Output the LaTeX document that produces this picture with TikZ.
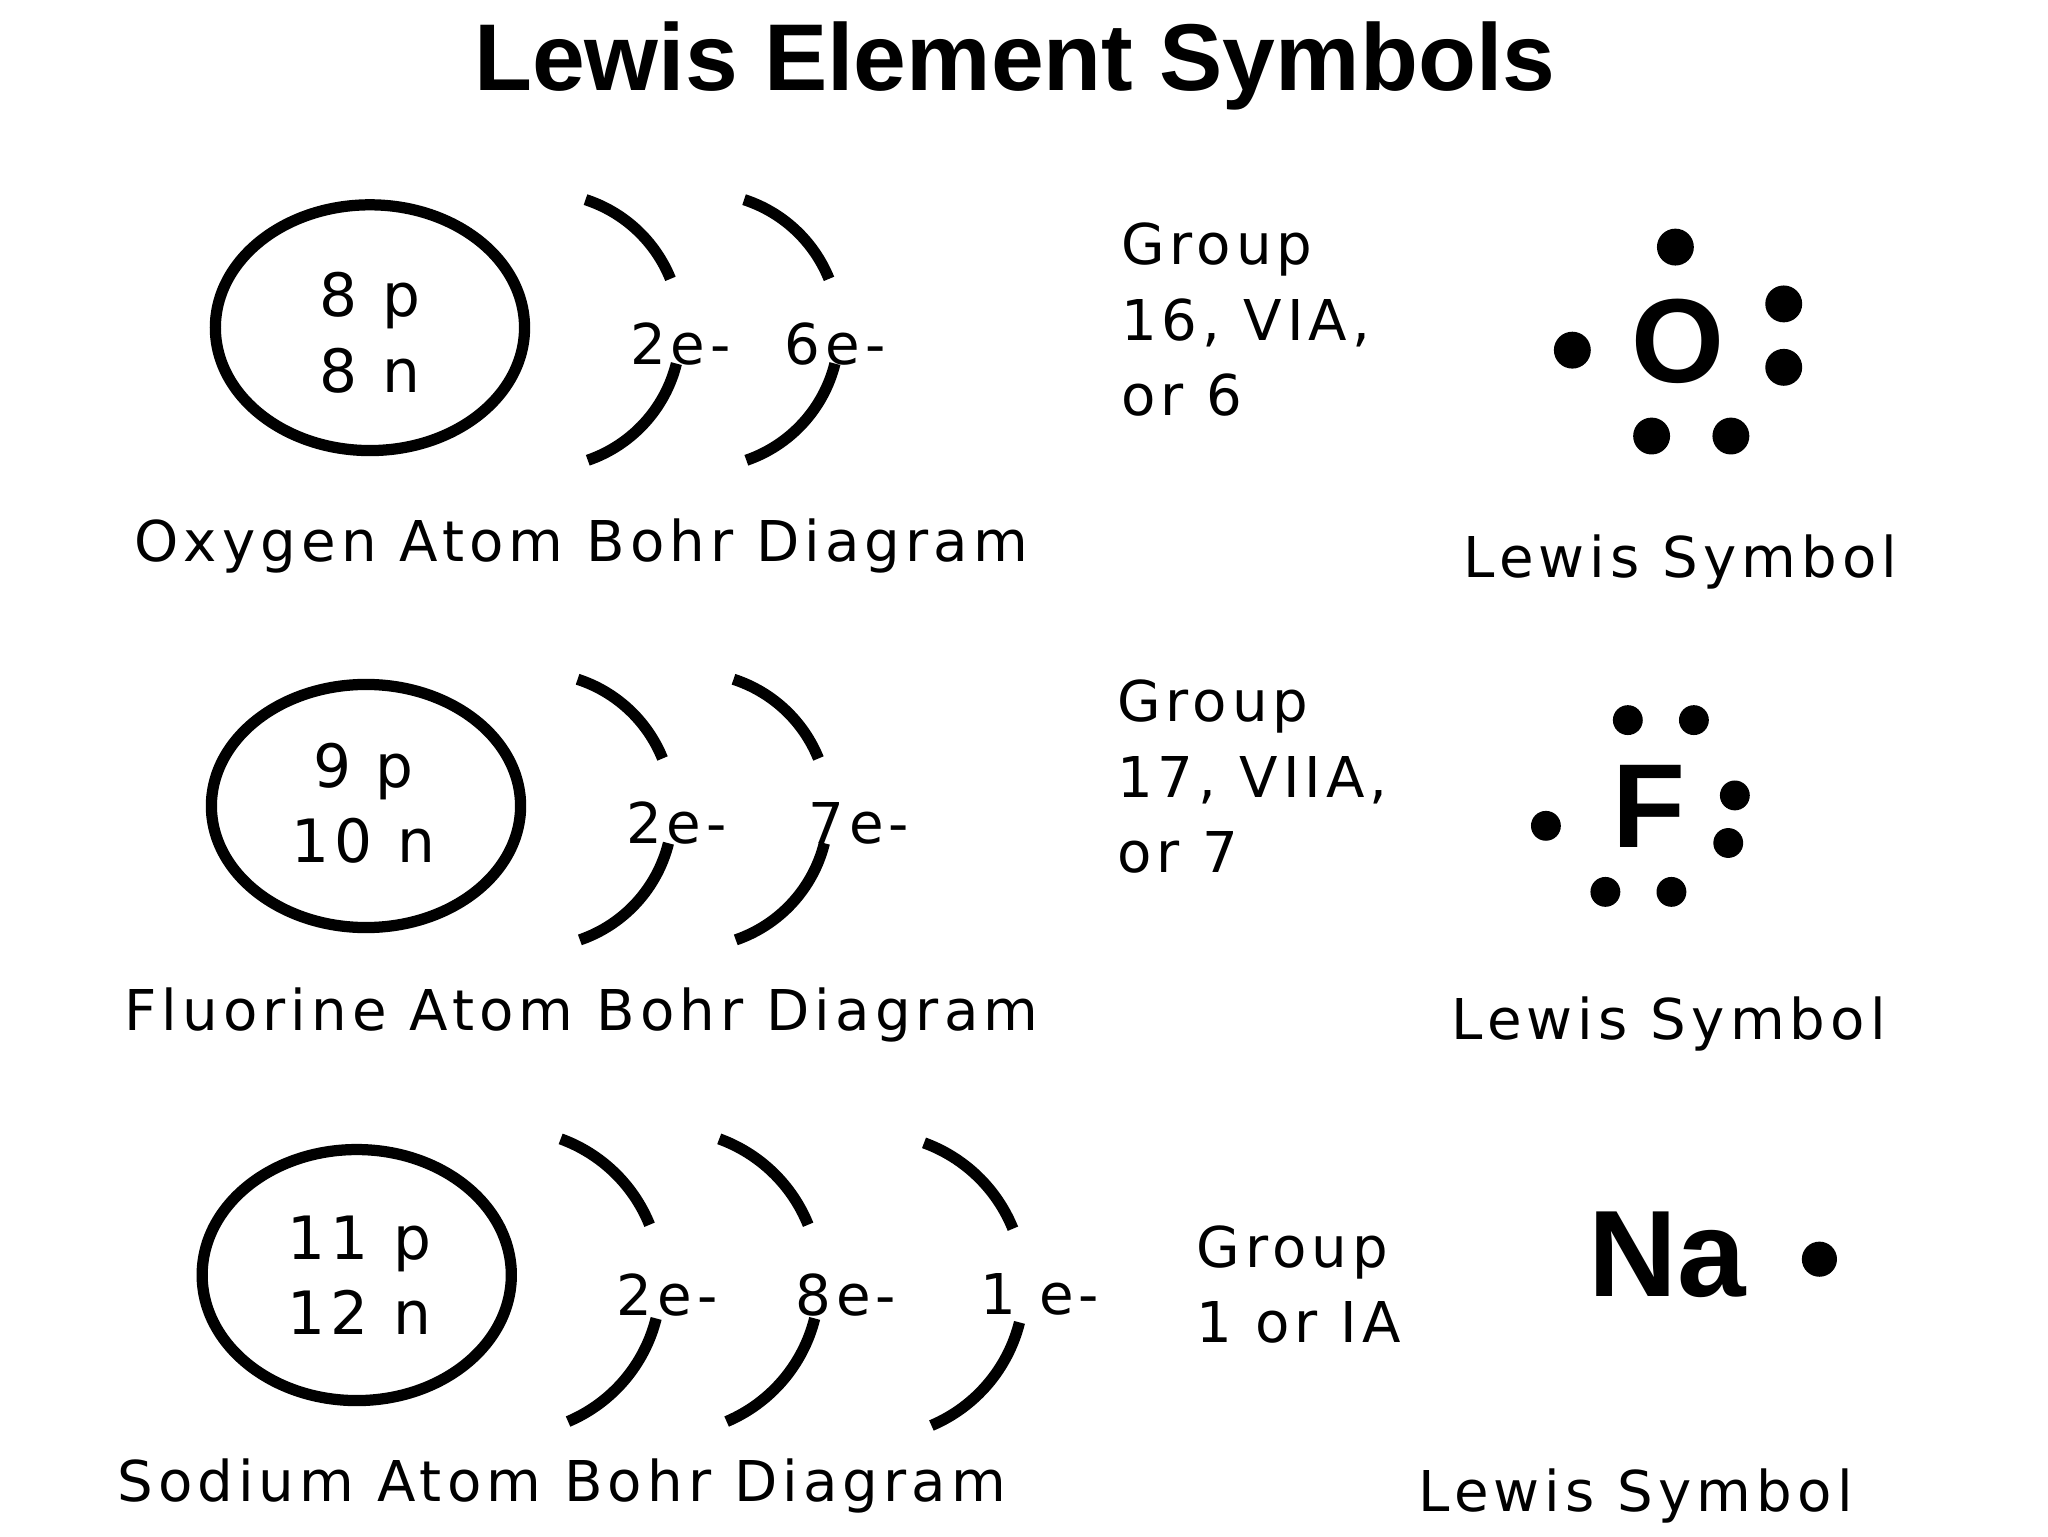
\documentclass[tikz,border=0pt]{standalone}
\usepackage{fontspec}
\setmainfont{DejaVu Sans}
\newfontfamily\titlefont{Liberation Sans}
\newfontfamily\spfont[LetterSpace=9]{DejaVu Sans}
\begin{document}
\begin{tikzpicture}[x=0.01321cm,y=-0.01321cm,
  lbl/.style={font=\spfont\fontsize{16}{18}\selectfont},
  grp/.style={font=\spfont\fontsize{16}{21.5}\selectfont,anchor=west,align=left,inner sep=0pt},
  shell/.style={line width=3.2pt},
  nucl/.style={font=\spfont\fontsize{17}{21.5}\selectfont,align=center},
  dot/.style={circle,fill=black,inner sep=0pt,minimum size=#1}]
\useasboundingbox (0,0) rectangle (1550,1163);
\node (title) at (768,50) {\titlefont\bfseries\fontsize{27}{30}\selectfont Lewis Element Symbols};
% Oxygen
\draw[line width=3.2pt] (280,248) ellipse (117 and 93);
\node[nucl] (on) at (280,252) {8 p\\8 n};
\draw[shell] (411,250) ++(71:104) arc (71:14:104);
\draw[shell] (411,250) ++(-22:104) arc (-22:-72:104);
\draw[shell] (531,250) ++(71:104) arc (71:14:104);
\draw[shell] (531,250) ++(-22:104) arc (-22:-72:104);
\node[lbl] (o1) at (515,260) {2e-};
\node[lbl] (o2) at (632,260) {6e-};
\node[grp] (og) at (848,242) {Group\\16, VIA,\\or 6};
\node[lbl] (ob) at (440,413) {Oxygen Atom Bohr Diagram};
\node (oL) at (1270,258) {\titlefont\bfseries\fontsize{34}{34}\selectfont O};
\foreach \p in {(1268,187),(1350,230),(1350,278),(1190,265),(1250,330),(1310,330)} \node[dot=10.5pt] at \p {};
\node[lbl] (ol) at (1272,425) {Lewis Symbol};
% Fluorine
\draw[line width=3.2pt] (277,610) ellipse (117 and 92);
\node[nucl] (fn) at (275,608) {9 p\\10 n};
\draw[shell] (405,613) ++(71:104) arc (71:14:104);
\draw[shell] (405,613) ++(-22:104) arc (-22:-72:104);
\draw[shell] (523,613) ++(71:104) arc (71:14:104);
\draw[shell] (523,613) ++(-22:104) arc (-22:-72:104);
\node[lbl] (f1) at (512,623) {2e-};
\node[lbl] (f2) at (650,623) {7e-};
\node[grp] (fg) at (845,588) {Group\\17, VIIA,\\or 7};
\node[lbl] (fb) at (440,768) {Fluorine Atom Bohr Diagram};
\node (fL) at (1248,610) {\titlefont\bfseries\fontsize{34}{34}\selectfont F};
\foreach \p in {(1232,545),(1282,545),(1313,602),(1308,638),(1170,625),(1215,675),(1265,675)} \node[dot=8.5pt] at \p {};
\node[lbl] (fl) at (1263,775) {Lewis Symbol};
% Sodium
\draw[line width=3.2pt] (270,965) ellipse (117 and 95);
\node[nucl] (nn) at (272,965) {11 p\\12 n};
\draw[shell] (385,970) ++(67:115) arc (67:14:115);
\draw[shell] (385,970) ++(-22:115) arc (-22:-70:115);
\draw[shell] (505,970) ++(67:115) arc (67:14:115);
\draw[shell] (505,970) ++(-22:115) arc (-22:-70:115);
\draw[shell] (660,973) ++(67:115) arc (67:14:115);
\draw[shell] (660,973) ++(-22:115) arc (-22:-70:115);
\node[lbl] (n1) at (505,980) {2e-};
\node[lbl] (n2) at (640,980) {8e-};
\node[lbl] (n3) at (787,980) {1 e-};
\node[grp] (ng) at (905,972) {Group\\1 or IA};
\node[lbl] (nb) at (425,1125) {Sodium Atom Bohr Diagram};
\node (nL) at (1262,950) {\titlefont\bfseries\fontsize{35}{35}\selectfont Na};
\node[dot=10pt] (nd) at (1377,953) {};
\node[lbl] (nl) at (1238,1132) {Lewis Symbol};
\end{tikzpicture}
\end{document}
